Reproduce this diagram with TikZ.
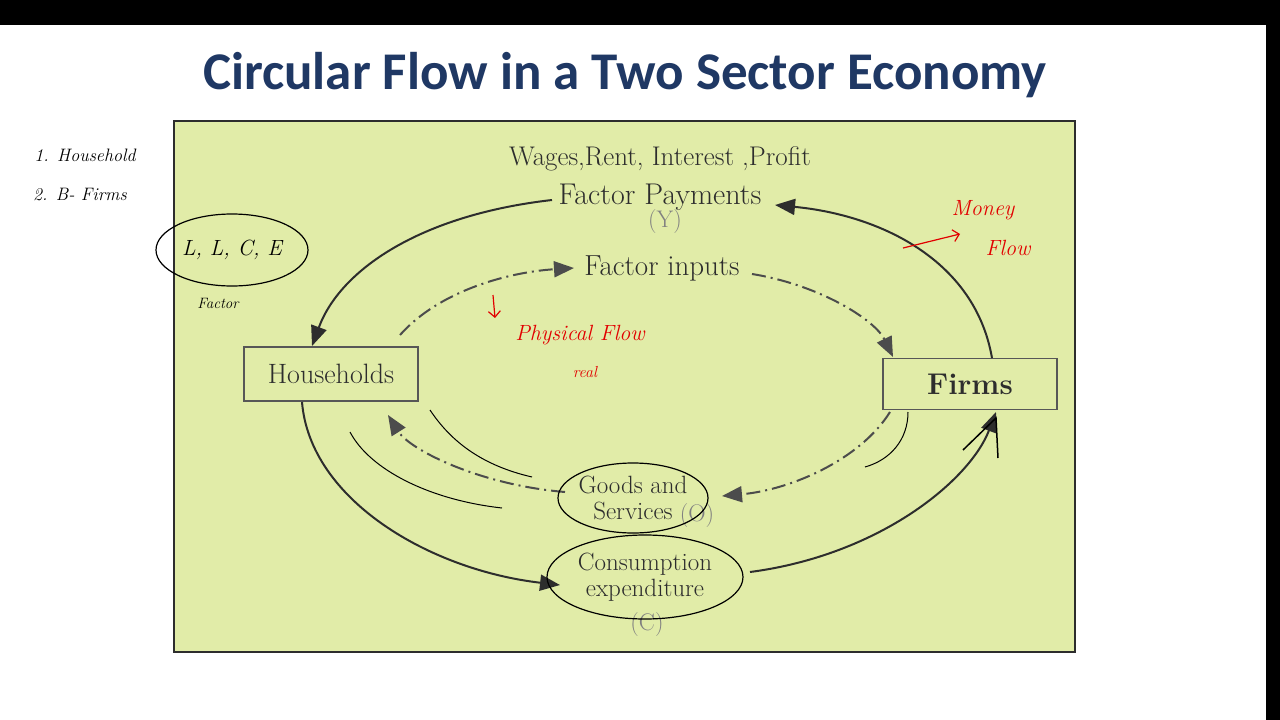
\documentclass[tikz,border=0pt]{standalone}
\usepackage{fontspec}
\newfontfamily\titlefont{Carlito}
\usetikzlibrary{arrows.meta}
\definecolor{bg}{RGB}{225,236,168}
\definecolor{ttl}{RGB}{31,56,100}
\definecolor{ink}{RGB}{45,45,45}
\definecolor{hand}{RGB}{225,0,0}
\tikzset{
  lbl/.style={font=\fontsize{27}{29}\selectfont, text=ink, inner sep=1pt},
  grey/.style={font=\fontsize{24}{26}\selectfont, text=gray, inner sep=1pt},
  sector/.style={draw=ink!80, line width=1.2pt, font=\fontsize{28}{30}\selectfont, text=ink, minimum width=174pt, inner sep=0pt},
  money/.style={draw=ink, line width=2pt, -{Triangle[length=20pt,width=16pt]}},
  real/.style={draw=ink!85, line width=2pt, dash pattern=on 14pt off 5pt on 2pt off 5pt, -{Triangle[length=20pt,width=16pt]}},
  red/.style={text=hand, font=\fontsize{22}{24}\selectfont\itshape, inner sep=0pt},
  blk/.style={text=black, font=\fontsize{18}{20}\selectfont\itshape, inner sep=0pt},
  circ/.style={draw=black, line width=1.2pt}
}
\begin{document}
\begin{tikzpicture}[x=1pt,y=-1pt]
\useasboundingbox (0,0) rectangle (1280,720);
\fill[white] (0,0) rectangle (1280,720);
\fill[black] (0,0) rectangle (1280,25);
\fill[black] (1266,25) rectangle (1280,720);
\node[font=\titlefont\bfseries\fontsize{53}{56}\selectfont, text=ttl] (title) at (625,75) {Circular Flow in a Two Sector Economy};
\draw[fill=bg, draw=ink, line width=2.5pt] (174,121) rectangle (1075,652);
\node[sector, minimum height=54pt] (hh) at (331,374) {Households};
\node[sector, minimum height=51pt, font=\fontsize{30}{32}\selectfont\bfseries] (ff) at (970,384) {Firms};
\node[lbl] (wages) at (660,159) {Wages,Rent, Interest ,Profit};
\node[lbl, font=\fontsize{30}{32}\selectfont] (fp) at (660,197) {Factor Payments};
\node[grey] (y) at (665,222) {(Y)};
\node[lbl, font=\fontsize{29}{31}\selectfont] (fi) at (662,268) {Factor inputs};
\node[lbl, align=center, font=\fontsize{25}{26}\selectfont] (gs) at (633,498) {Goods and\\Services};
\node[grey] (o) at (697,516) {(O)};
\node[lbl, align=center, font=\fontsize{25}{26}\selectfont] (ce) at (645,577) {Consumption\\expenditure};
\node[grey] (c) at (647,625) {(C)};
% money flow
\draw[money] (992,358) .. controls (975,260) and (880,215) .. (775,205);
\draw[money] (552,200) .. controls (420,215) and (340,270) .. (312,346);
\draw[money] (302,402) .. controls (310,500) and (430,570) .. (560,585);
\draw[money] (750,572) .. controls (880,555) and (970,480) .. (996,412);
% real flow
\draw[real] (400,335) .. controls (440,290) and (510,272) .. (574,268);
\draw[real] (752,274) .. controls (820,285) and (875,320) .. (893,357);
\draw[real] (890,412) .. controls (860,460) and (790,490) .. (722,496);
\draw[real] (565,492) .. controls (480,485) and (410,450) .. (388,415);
% handwritten annotations
\node[blk] (n1) at (85,155) {1. Household};
\node[blk] (n2) at (80,195) {2. B- Firms};
\node[blk, font=\fontsize{22}{24}\selectfont\itshape] (lce) at (232,250) {L, L, C, E};
\draw[circ] (lce) ellipse (76pt and 36pt);
\node[blk, font=\fontsize{15}{17}\selectfont\itshape] (fac) at (218,303) {Factor};
\draw[circ] (gs.center) ellipse (75pt and 35pt);
\draw[circ] (ce.center) ellipse (98pt and 42pt);
\node[red] (mf) at (983,210) {Money};
\node[red] (mf2) at (1008,248) {Flow};
\draw[hand, line width=1.2pt, -{Straight Barb[length=6pt]}] (903,248) -- (960,234);
\node[red] (pf) at (580,335) {Physical Flow};
\node[red, font=\fontsize{16}{18}\selectfont\itshape] (rl) at (585,372) {real};
\draw[hand, line width=1.2pt, -{Straight Barb[length=6pt]}] (493,295) -- (495,318);
\draw[black, line width=1pt] (350,432) .. controls (370,470) and (430,500) .. (502,508);
\draw[black, line width=1pt] (430,410) .. controls (450,440) and (480,465) .. (532,477);
\draw[black, line width=1pt] (908,412) .. controls (908,440) and (890,460) .. (865,467);
\draw[black, line width=1.5pt] (963,450) -- (996,418) -- (998,458);
\end{tikzpicture}
\end{document}
